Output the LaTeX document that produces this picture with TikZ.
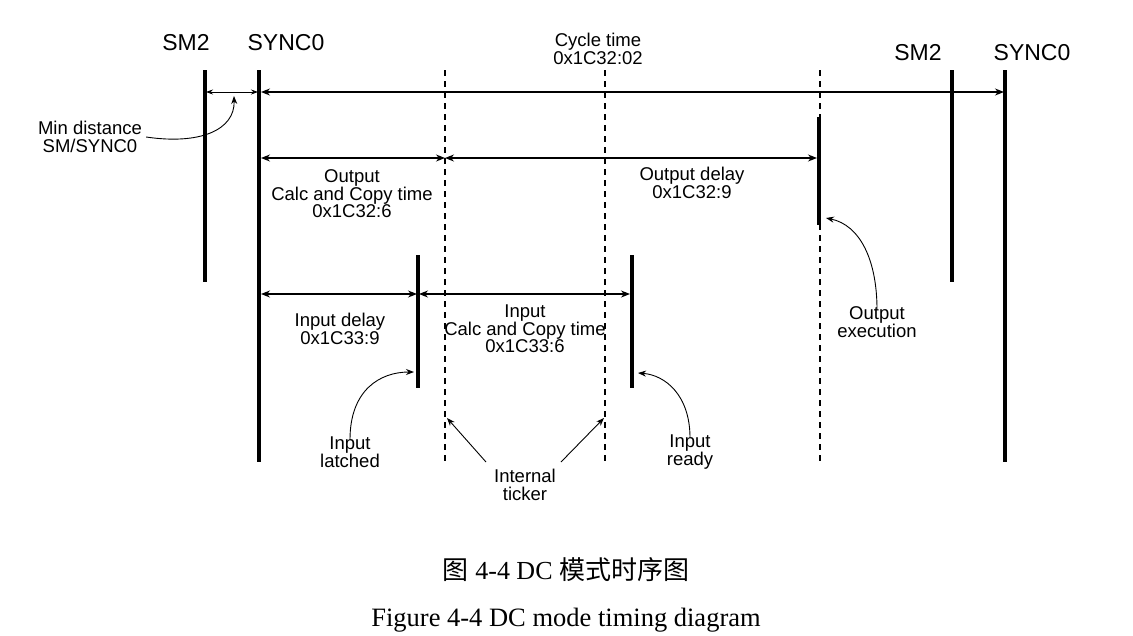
\documentclass[tikz,border=0pt]{standalone}
\usepackage{fontspec}
\setmainfont{Liberation Sans}
\newfontfamily\capserif{Liberation Serif}
\newfontfamily\cjk{Noto Sans CJK SC}
\usetikzlibrary{arrows.meta}
\begin{document}
\begin{tikzpicture}[x=1pt,y=-1pt,
  bar/.style={line width=3.5pt},
  tick/.style={line width=1.5pt,dash pattern=on 6pt off 5pt},
  dim/.style={line width=1.2pt,{Stealth[length=9pt,width=7pt]}-{Stealth[length=9pt,width=7pt]}},
  ptr/.style={line width=0.9pt,-{Stealth[length=8pt,width=6pt]}},
  lbl/.style={font=\fontsize{18.5}{17.5}\selectfont,align=center,inner sep=0pt},
  big/.style={font=\fontsize{23}{26}\selectfont}]
\useasboundingbox (0,0) rectangle (1133,635);
% bars
\coordinate (smL1) at (205,70); \coordinate (smL2) at (205,282);
\coordinate (syL1) at (259,70); \coordinate (syL2) at (259,462);
\coordinate (smR1) at (952,70); \coordinate (smR2) at (952,282);
\coordinate (syR1) at (1005,70); \coordinate (syR2) at (1005,462);
\coordinate (lat1) at (418,255); \coordinate (lat2) at (418,388);
\coordinate (rdy1) at (632,255); \coordinate (rdy2) at (632,388);
\coordinate (ex1) at (819,117); \coordinate (ex2) at (819,225);
\draw[bar] (smL1)--(smL2); \draw[bar] (syL1)--(syL2);
\draw[bar] (smR1)--(smR2); \draw[bar] (syR1)--(syR2);
\draw[bar] (lat1)--(lat2); \draw[bar] (rdy1)--(rdy2); \draw[bar] (ex1)--(ex2);
\coordinate (d11) at (445,70); \coordinate (d12) at (445,462);
\coordinate (d21) at (605,70); \coordinate (d22) at (605,462);
\coordinate (d31) at (820,70); \coordinate (d32) at (820,462);
\draw[tick] (d11)--(d12); \draw[tick] (d21)--(d22); \draw[tick] (d31)--(d32);
% dimension arrows
\coordinate (a1) at (206,92); \coordinate (a2) at (258,92); \coordinate (a3) at (1004,92);
\draw[line width=0.8pt,{Stealth[length=7pt,width=5pt]}-{Stealth[length=7pt,width=5pt]}] (a1)--(a2);
\draw[dim] (261,92)--(a3);
\coordinate (b1) at (261,158); \coordinate (b2) at (445,158); \coordinate (b3) at (817,158);
\draw[dim] (b1)--(b2); \draw[dim] (b2)--(b3);
\coordinate (c1) at (261,294); \coordinate (c2) at (417,294); \coordinate (c3) at (630,294);
\draw[dim] (c1)--(c2); \draw[dim] (419,294)--(c3);
% labels
\node[lbl,big] (tsm) at (186,43) {SM2};
\node[lbl,big] (tsy) at (286,43) {SYNC0};
\node[lbl,big] (tsm2) at (918,53) {SM2};
\node[lbl,big] (tsy2) at (1032,53) {SYNC0};
\node[lbl] (cyc) at (598,49) {Cycle time\\0x1C32:02};
\node[lbl] (mind) at (90,137) {Min distance\\SM/SYNC0};
\node[lbl] (ocalc) at (352,194) {Output\\Calc and Copy time\\0x1C32:6};
\node[lbl] (odel) at (692,183) {Output delay\\0x1C32:9};
\node[lbl] (oex) at (877,322) {Output\\execution};
\node[lbl] (idel) at (340,329) {Input delay\\0x1C33:9};
\node[lbl] (icalc) at (525,329) {Input\\Calc and Copy time\\0x1C33:6};
\node[lbl] (ilat) at (350,452) {Input\\latched};
\node[lbl] (itk) at (525,485) {Internal\\ticker};
\node[lbl] (irdy) at (690,452) {Input\\ready};
% pointers
\draw[ptr] ([xshift=4pt]mind.east) .. controls (200,145) and (235,130) .. (234,96);
\draw[ptr] ([yshift=-3pt]ilat.north) .. controls (350,390) and (380,372) .. (414,372);
\draw[ptr] ([yshift=-3pt]irdy.north) .. controls (690,395) and (665,375) .. (638,373);
\draw[ptr] ([yshift=-3pt]oex.north) .. controls (877,260) and (860,225) .. (826,218);
\draw[ptr] (486,462) -- (447,418);
\draw[ptr] (561,462) -- (604,418);
% captions
\node[inner sep=0pt,font=\fontsize{26}{30}\selectfont] (cap1) at (566,570) {{\cjk 图} {\capserif 4-4 DC} {\cjk 模式时序图}};
\node[inner sep=0pt,font=\capserif\fontsize{26.5}{30}\selectfont] (cap2) at (566,620) {Figure 4-4 DC mode timing diagram};
\end{tikzpicture}
\end{document}
